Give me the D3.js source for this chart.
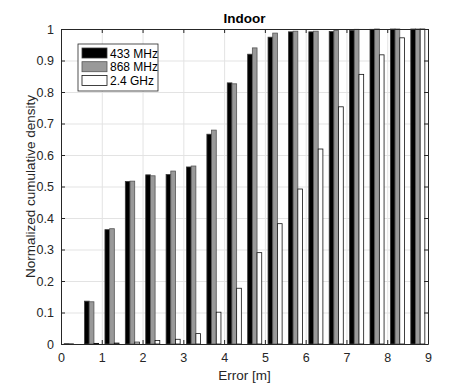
<!DOCTYPE html>
<html>
<head>
<meta charset="utf-8">
<script src="https://cdn.jsdelivr.net/npm/d3@7"></script>
<style>
  body { margin: 0; background: #fff; }
  svg { font-family: "Liberation Sans", Arial, sans-serif; }
  .grid line { stroke: #e3e3e3; stroke-width: 1; }
  .axis path, .axis line { stroke: #262626; }
  .axis text { font-size: 12.5px; fill: #262626; }
</style>
</head>
<body>
<div id="chart"></div>
<script>
// bin centres along the error axis (m)
const bins = [0.25, 0.75, 1.25, 1.75, 2.25, 2.75, 3.25, 3.75, 4.25, 4.75, 5.25, 5.75, 6.25, 6.75, 7.25, 7.75, 8.25, 8.75]

const series = ["433 MHz", "868 MHz", "2.4 GHz"]
const mhz433 = [0.001, 0.136, 0.363, 0.516, 0.537, 0.538, 0.562, 0.666, 0.829, 0.920, 0.974, 0.991, 0.991, 0.992, 0.996, 0.999, 1.0, 1.0]
const mhz868 = [0.001, 0.134, 0.366, 0.517, 0.534, 0.549, 0.565, 0.679, 0.826, 0.940, 0.987, 0.993, 0.993, 0.995, 0.999, 1.0, 1.0, 1.0]
const ghz24  = [0.0, 0.002, 0.003, 0.006, 0.011, 0.015, 0.033, 0.101, 0.177, 0.290, 0.382, 0.492, 0.619, 0.753, 0.856, 0.918, 0.972, 1.0]

const xTicks = [0, 1, 2, 3, 4, 5, 6, 7, 8, 9]
const yTicks = [0, 0.1, 0.2, 0.3, 0.4, 0.5, 0.6, 0.7, 0.8, 0.9, 1]

const width = 474, height = 387
const margin = { top: 29, right: 46, bottom: 43, left: 61 }
const w = width - margin.left - margin.right
const h = height - margin.top - margin.bottom

const fills = ["#000000", "#999999", "#ffffff"]
const strokes = ["#3a3a3a", "#555555", "#111111"]

var svg = d3.select("#chart").append("svg")
    .attr("width", width)
    .attr("height", height)

var g = svg.append("g").attr("transform", `translate(${margin.left},${margin.top})`)

var x = d3.scaleLinear().domain([0, 9]).range([0, w])
var y = d3.scaleLinear().domain([0, 1]).range([h, 0])

// Grid
g.append("g").attr("class", "grid")
  .selectAll("line.gx").data(xTicks.slice(1, -1)).enter()
    .append("line")
      .attr("x1", d => x(d) + 0.5).attr("x2", d => x(d) + 0.5)
      .attr("y1", 0).attr("y2", h)
g.select(".grid")
  .selectAll("line.gy").data(yTicks.slice(1, -1)).enter()
    .append("line")
      .attr("y1", d => y(d) + 0.5).attr("y2", d => y(d) + 0.5)
      .attr("x1", 0).attr("x2", w)

// Bars
const data = [mhz433, mhz868, ghz24]
const slot = 0.115
const barW = x(slot) - x(0)

data.forEach((vals, s) => {
  g.append("g").attr("class", "series-" + s)
    .selectAll("rect").data(vals).enter()
      .append("rect")
        .attr("x", (d, i) => x(bins[i] + (s - 1) * slot) - barW / 2)
        .attr("width", barW)
        .attr("y", d => y(d))
        .attr("height", d => y(0) - y(d))
        .attr("fill", fills[s])
        .attr("stroke", strokes[s])
        .attr("stroke-width", 0.8)
})

// Axes, ticks inward like MATLAB
g.append("g").attr("class", "axis")
  .attr("transform", `translate(0,${h})`)
  .call(d3.axisBottom(x).tickValues(xTicks).tickSizeInner(-4).tickSizeOuter(0).tickPadding(9).tickFormat(d3.format("d")))

g.append("g").attr("class", "axis")
  .call(d3.axisLeft(y).tickValues(yTicks).tickSizeInner(-4).tickSizeOuter(0).tickPadding(7).tickFormat(d => d === 0 || d === 1 ? d : d3.format(".1f")(d)))

g.append("g").attr("class", "axis")
  .call(d3.axisTop(x).tickValues(xTicks).tickSizeInner(-4).tickSizeOuter(0).tickFormat(""))

g.append("g").attr("class", "axis")
  .attr("transform", `translate(${w},0)`)
  .call(d3.axisRight(y).tickValues(yTicks).tickSizeInner(-4).tickSizeOuter(0).tickFormat(""))

// Titles
svg.append("text")
  .attr("x", margin.left + w / 2).attr("y", 23)
  .attr("text-anchor", "middle")
  .attr("font-size", 13.5).attr("font-weight", "bold")
  .attr("fill", "#000")
  .text("Indoor")

svg.append("text")
  .attr("x", margin.left + w / 2).attr("y", 380)
  .attr("text-anchor", "middle")
  .attr("font-size", 13.5).attr("fill", "#262626")
  .text("Error [m]")

svg.append("text")
  .attr("transform", `translate(35,${margin.top + h / 2}) rotate(-90)`)
  .attr("text-anchor", "middle")
  .attr("font-size", 13.5).attr("fill", "#262626")
  .text("Normalized cumulative density")

// Legend
var legend = svg.append("g").attr("transform", "translate(78,44)")
legend.append("rect")
  .attr("width", 80).attr("height", 47)
  .attr("fill", "#fff").attr("stroke", "#262626").attr("stroke-width", 0.8)

var item = legend.selectAll(".item").data(series).enter()
  .append("g").attr("class", "item")
    .attr("transform", (d, i) => `translate(4,${4 + i * 13.7})`)

item.append("rect")
  .attr("width", 25).attr("height", 10)
  .attr("fill", (d, i) => fills[i])
  .attr("stroke", (d, i) => strokes[i])
  .attr("stroke-width", 0.8)

item.append("text")
  .attr("x", 28).attr("y", 9.5)
  .attr("font-size", 12).attr("fill", "#000")
  .text(d => d)
</script>
</body>
</html>
